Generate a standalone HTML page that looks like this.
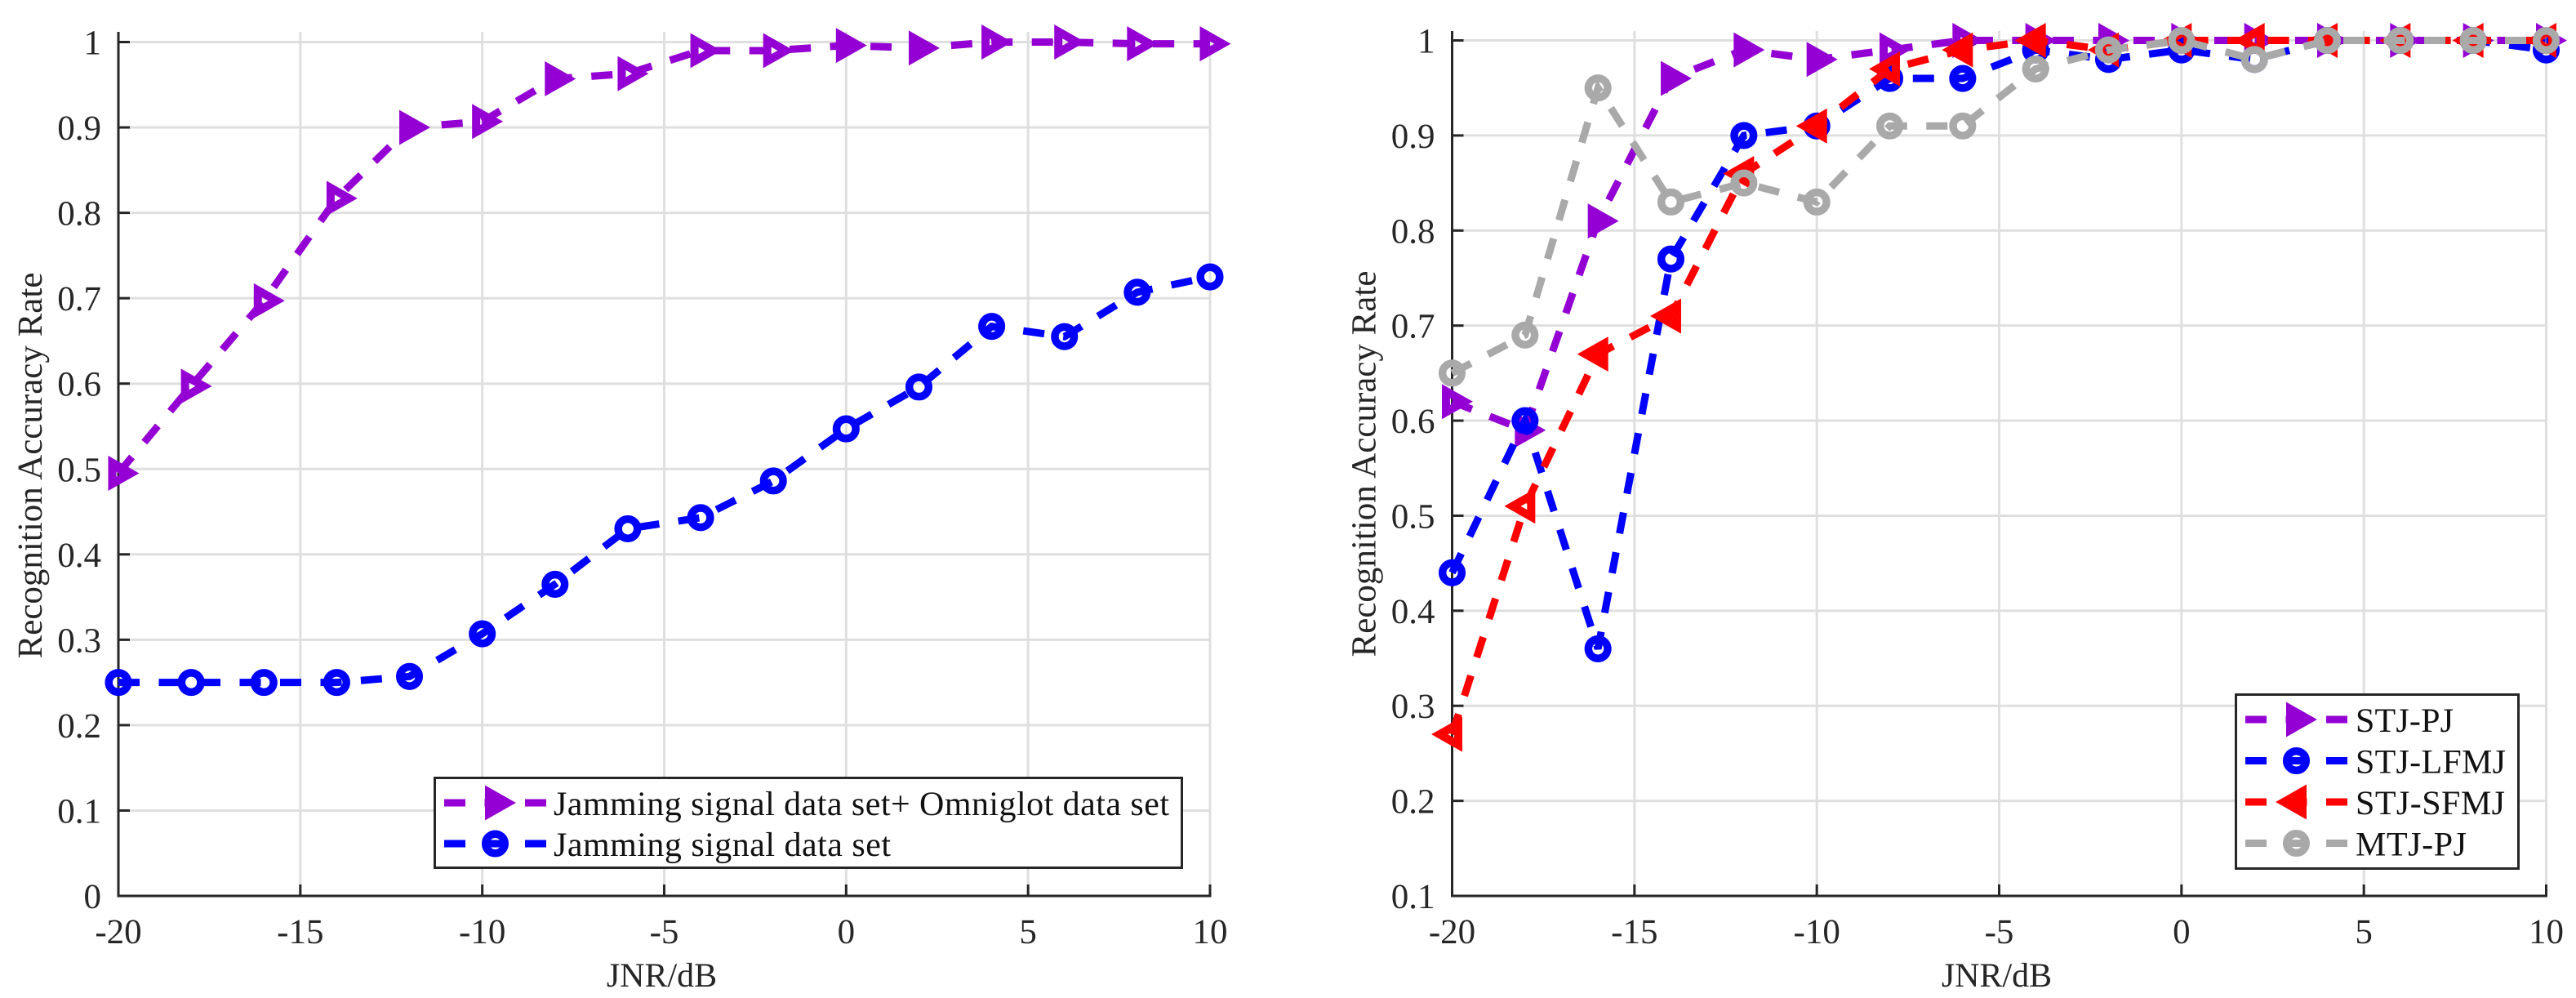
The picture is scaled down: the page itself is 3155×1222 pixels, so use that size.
<!DOCTYPE html>
<html lang="en">
<head>
<meta charset="utf-8">
<title>Recognition Accuracy Rate vs JNR</title>
<style>
html,body{margin:0;padding:0;background:#fff;}
svg{display:block;}
text{font-family:"Liberation Serif",serif;fill:#262626;text-rendering:geometricPrecision;}
</style>
</head>
<body>
<svg id="figure" xmlns="http://www.w3.org/2000/svg" width="3155" height="1222" viewBox="0 0 3155 1222"></svg>
<script>
const jnrValues = [-20,-18,-16,-14,-12,-10,-8,-6,-4,-2,0,2,4,6,8,10];
const xTickLabels = [-20,-15,-10,-5,0,5,10];
const leftYTickLabels = [0,0.1,0.2,0.3,0.4,0.5,0.6,0.7,0.8,0.9,1];
const rightYTickLabels = [0.1,0.2,0.3,0.4,0.5,0.6,0.7,0.8,0.9,1];

const leftOmniglot = [0.495,0.597,0.697,0.817,0.9,0.907,0.957,0.963,0.99,0.99,0.996,0.993,1,1,0.998,0.998];
const leftJamming = [0.25,0.25,0.25,0.25,0.257,0.307,0.365,0.43,0.443,0.486,0.547,0.596,0.667,0.655,0.707,0.725];

const rightStjPj = [0.62,0.59,0.81,0.96,0.99,0.98,0.99,1,1,1,1,1,1,1,1,1];
const rightStjLfmj = [0.44,0.6,0.36,0.77,0.9,0.91,0.96,0.96,0.99,0.98,0.99,0.98,1,1,1,0.99];
const rightStjSfmj = [0.27,0.51,0.67,0.71,0.86,0.91,0.97,0.99,1,0.99,1,1,1,1,1,1];
const rightMtjPj = [0.65,0.69,0.95,0.83,0.85,0.83,0.91,0.91,0.97,0.99,1,0.98,1,1,1,1];

const SVGNS = 'http://www.w3.org/2000/svg';
const root = document.getElementById('figure');
const AXIS = '#262626', GRID = '#dfdfdf';
const PURPLE = '#9400D3', BLUE = '#0000FF', RED = '#FF0000', GRAY = '#A9A9A9';
const DASH = '26 23.5', LW = 9, MW = 9.5;

function mk(parent, tag, attrs, txt) {
  const el = document.createElementNS(SVGNS, tag);
  for (const k in attrs) el.setAttribute(k, attrs[k]);
  if (txt !== undefined) el.textContent = txt;
  parent.appendChild(el);
  return el;
}

function drawMarker(parent, kind, cx, cy, color, name) {
  let m;
  if (kind === 'circle') {
    m = mk(parent, 'circle', {cx: cx, cy: cy, r: 11.8, fill: 'none', stroke: color, 'stroke-width': MW});
  } else {
    const s = kind === 'right' ? 1 : -1, k = 0.6;
    const pts = [[-12.5*s*k, -21.5*k], [25.5*s*k, 0], [-12.5*s*k, 21.5*k]]
      .map(p => (cx + p[0]) + ',' + (cy + p[1])).join(' ');
    m = mk(parent, 'polygon', {points: pts, fill: 'none', stroke: color, 'stroke-width': 10, 'stroke-linejoin': 'miter', 'stroke-miterlimit': 10});
  }
  
  
  return m;
}

function drawAxes(cfg) {
  const g = mk(root, 'g', {});
  
  
  const xs = v => cfg.x0 + (v - (-20)) * (cfg.x1 - cfg.x0) / 30;
  const ys = v => cfg.yBottom + (v - cfg.yMin) * (cfg.yOne - cfg.yBottom) / (1 - cfg.yMin);
  cfg.xs = xs; cfg.ys = ys;

  xTickLabels.forEach(t => {
    const l = mk(g, 'line', {x1: xs(t), x2: xs(t), y1: cfg.yTop, y2: cfg.yBottom, stroke: GRID, 'stroke-width': 3});
    
    
  });
  cfg.yTicks.forEach(t => {
    const l = mk(g, 'line', {x1: cfg.x0, x2: cfg.x1, y1: ys(t), y2: ys(t), stroke: GRID, 'stroke-width': 3});
    
    
  });

  const ya = mk(g, 'line', {x1: cfg.x0, x2: cfg.x0, y1: cfg.yTop, y2: cfg.yBottom + 1.5, stroke: AXIS, 'stroke-width': 3});
  
  
  const xa = mk(g, 'line', {x1: cfg.x0 - 1.5, x2: cfg.x1 + 1.5, y1: cfg.yBottom, y2: cfg.yBottom, stroke: AXIS, 'stroke-width': 3});
  
  

  xTickLabels.forEach(t => {
    const l = mk(g, 'line', {x1: xs(t), x2: xs(t), y1: cfg.yBottom, y2: cfg.yBottom - 14, stroke: AXIS, 'stroke-width': 3});
    
    
    const tx = mk(g, 'text', {x: xs(t), y: 1155, 'text-anchor': 'middle', 'font-size': 43}, String(t));
    
    
  });
  cfg.yTicks.forEach(t => {
    const l = mk(g, 'line', {x1: cfg.x0, x2: cfg.x0 + 14, y1: ys(t), y2: ys(t), stroke: AXIS, 'stroke-width': 3});
    
    
    const tx = mk(g, 'text', {x: cfg.x0 - 21, y: ys(t) + 15, 'text-anchor': 'end', 'font-size': 43}, String(t));
    
    
  });

  const xt = mk(g, 'text', {x: (cfg.x0 + cfg.x1) / 2 - 3, y: 1208, 'text-anchor': 'middle', 'font-size': 42}, 'JNR/dB');
  
  
  const yx = cfg.x0 - 94;
  const yt = mk(g, 'text', {x: yx, y: cfg.yLabelY, 'text-anchor': 'middle', 'font-size': 43, transform: 'rotate(-90 ' + yx + ' ' + cfg.yLabelY + ')'}, 'Recognition Accuracy Rate');
  
  
  return g;
}

function drawSeries(parent, cfg, values, color, kind, name) {
  const g = mk(parent, 'g', {});
  
  
  const pts = values.map((v, i) => cfg.xs(jnrValues[i]) + ',' + cfg.ys(v)).join(' ');
  const line = mk(g, 'polyline', {points: pts, fill: 'none', stroke: color, 'stroke-width': LW, 'stroke-dasharray': DASH, 'stroke-linejoin': 'miter'});
  
  
  values.forEach((v, i) => {
    drawMarker(g, kind, cfg.xs(jnrValues[i]), cfg.ys(v), color, name + '-marker');
  });
}

function drawLegend(spec) {
  const g = mk(root, 'g', {});
  
  
  const box = mk(g, 'rect', {x: spec.x, y: spec.y, width: spec.w, height: spec.h, fill: '#fff', stroke: AXIS, 'stroke-width': 3});
  
  
  spec.rows.forEach(r => {
    const a = mk(g, 'line', {x1: spec.l1, x2: spec.l2 + 26, y1: r.y, y2: r.y, stroke: r.color, 'stroke-width': LW, 'stroke-dasharray': DASH});
    
    
    drawMarker(g, r.kind, spec.mx, r.y, r.color, 'legend-marker');
    const t = mk(g, 'text', {x: spec.tx, y: r.y + 15, 'font-size': 42, textLength: r.len, lengthAdjust: 'spacing', style: 'fill:#111'}, r.label);
    
    
  });
}

const leftCfg = {name: 'left-chart', x0: 145, x1: 1482, yTop: 39, yBottom: 1097, yOne: 51.5, yMin: 0, yTicks: leftYTickLabels, yLabelY: 570};
const leftG = drawAxes(leftCfg);
drawSeries(leftG, leftCfg, leftOmniglot, PURPLE, 'right', 'jamming-omniglot');
drawSeries(leftG, leftCfg, leftJamming, BLUE, 'circle', 'jamming-only');
drawLegend({name: 'left-legend', x: 532.5, y: 952.5, w: 915, h: 110, l1: 544, l2: 643, mx: 606.5, tx: 678, rows: [
  {y: 983, color: PURPLE, kind: 'right', label: 'Jamming signal data set+ Omniglot data set', len: 754},
  {y: 1033, color: BLUE, kind: 'circle', label: 'Jamming signal data set', len: 413}
]});

const rightCfg = {name: 'right-chart', x0: 1778.5, x1: 3118.5, yTop: 38, yBottom: 1097, yOne: 49.5, yMin: 0.1, yTicks: rightYTickLabels, yLabelY: 568};
const rightG = drawAxes(rightCfg);
drawSeries(rightG, rightCfg, rightStjPj, PURPLE, 'right', 'stj-pj');
drawSeries(rightG, rightCfg, rightStjLfmj, BLUE, 'circle', 'stj-lfmj');
drawSeries(rightG, rightCfg, rightStjSfmj, RED, 'left', 'stj-sfmj');
drawSeries(rightG, rightCfg, rightMtjPj, GRAY, 'circle', 'mtj-pj');
drawLegend({name: 'right-legend', x: 2738.5, y: 850.5, w: 346, h: 213, l1: 2750, l2: 2849, mx: 2812.5, tx: 2885, rows: [
  {y: 881, color: PURPLE, kind: 'right', label: 'STJ-PJ', len: 120},
  {y: 931.5, color: BLUE, kind: 'circle', label: 'STJ-LFMJ', len: 184},
  {y: 982, color: RED, kind: 'left', label: 'STJ-SFMJ', len: 183},
  {y: 1032.5, color: GRAY, kind: 'circle', label: 'MTJ-PJ', len: 136}
]});
</script>
</body>
</html>
